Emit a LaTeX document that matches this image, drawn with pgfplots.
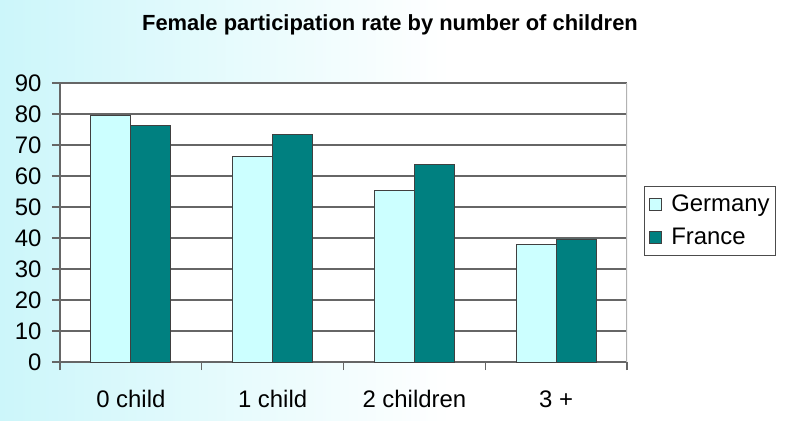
\documentclass[border=0pt]{standalone}
\usepackage{pgfplots}
\pgfplotsset{compat=1.18}
\usepackage{fontspec}
\setmainfont{Liberation Sans}
\definecolor{ger}{HTML}{CCFFFF}
\definecolor{fra}{HTML}{008080}
\definecolor{bgc}{HTML}{CCF6FA}
\definecolor{gridc}{HTML}{666666}
\begin{document}
\begin{tikzpicture}[x=1bp,y=1bp]
\fill[white] (0,0) rectangle (790,420);
\shade[left color=bgc, right color=white] (0,0) rectangle (450,420);
\begin{axis}[
  at={(60bp,58bp)}, anchor=south west,
  scale only axis, width=567bp, height=279bp,
  ymin=0, ymax=90, ytick={0,10,...,90},
  xmin=-0.5, xmax=3.5,
  xtick={0,1,2,3}, xticklabels={0 child,1 child,2 children,3 +},
  minor xtick={-0.5,0.5,1.5,2.5,3.5},
  ybar=0pt, bar width=40bp,
  axis background/.style={fill=white},
  axis lines=left, axis line style={-, draw=black!60, line width=1.5bp},
  ymajorgrids, grid style={draw=gridc, line width=1.3bp},
  tick align=outside, major tick length=8bp, minor tick length=8bp,
  tick style={draw=black!60, line width=1.3bp},
  major x tick style={draw=none},
  /pgf/number format/assume math mode=true,
  ticklabel style={font=\fontsize{24}{28}\selectfont},
  xticklabel style={yshift=-17bp},
  yticklabel style={xshift=-7bp},
  legend style={at={(1.03,0.632)}, anchor=north west, draw=black!70, line width=1bp,
    fill=white, font=\fontsize{24}{28}\selectfont, inner xsep=4bp, inner ysep=7bp, row sep=11bp},
  legend cell align=left,
  legend image code/.code={\draw[#1,draw=black!75,line width=0.8bp] (0bp,-6bp) rectangle (12bp,6bp); \path (20bp,0bp);},
]
\addplot[fill=ger, draw=black!75, line width=0.8bp] coordinates {(0,79.5) (1,66.3) (2,55.2) (3,37.8)};
\addplot[fill=fra, draw=black!75, line width=0.8bp] coordinates {(0,76.4) (1,73.3) (2,63.8) (3,39.7)};
\legend{Germany,France}
\draw[black!30, line width=1.3bp] (rel axis cs:1,0) -- (rel axis cs:1,1);
\end{axis}
\node[font=\bfseries\fontsize{22}{26}\selectfont, anchor=base] at (390,389) {Female participation rate by number of children};
\pgfresetboundingbox
\useasboundingbox (0,0) rectangle (790,420);
\end{tikzpicture}
\end{document}
